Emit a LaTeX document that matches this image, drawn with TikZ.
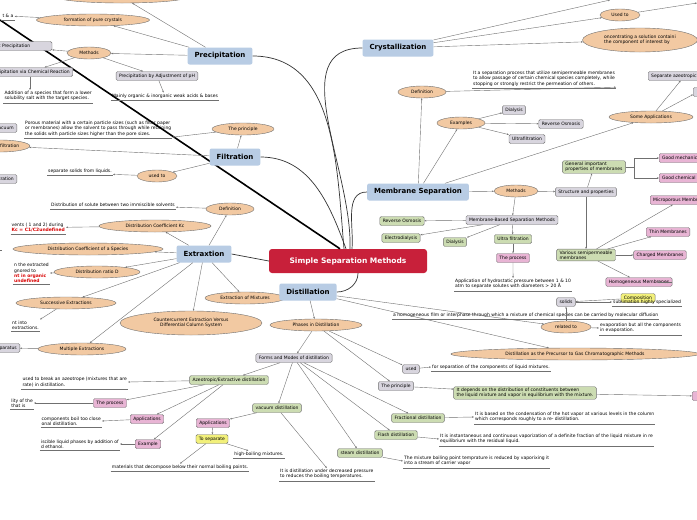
\documentclass[tikz,border=0pt]{standalone}
\usepackage{fontspec}
\setmainfont{DejaVu Sans}
\usetikzlibrary{shapes.geometric,arrows.meta}
\definecolor{mainred}{HTML}{C8203A}
\definecolor{topicblue}{HTML}{B8CCE4}
\definecolor{peach}{HTML}{F2C9A2}
\definecolor{greybox}{HTML}{D8D5DE}
\definecolor{greenbox}{HTML}{CCDCB2}
\definecolor{pinkbox}{HTML}{E8B4D4}
\definecolor{yellowbox}{HTML}{F2F07A}
\definecolor{linegrey}{HTML}{707070}
\tikzset{
 base/.style={font=\fontsize{4.5}{5.2}\selectfont, align=center, inner sep=1.5pt},
 mainnode/.style={base, fill=mainred, text=white, font=\fontsize{7.5}{9}\selectfont\bfseries, rounded corners=3pt, minimum width=158pt, minimum height=24pt},
 topic/.style={base, fill=topicblue, font=\fontsize{7}{8}\selectfont\bfseries, rounded corners=2pt, minimum height=17pt, inner xsep=7pt},
 oval/.style={base, ellipse, fill=peach, draw=linegrey, line width=0.4pt, inner sep=0.5pt, minimum height=12pt},
 gbox/.style={base, fill=greybox, draw=linegrey, rounded corners=1.5pt, minimum height=9pt, inner xsep=3pt},
 grbox/.style={base, fill=greenbox, draw=linegrey, rounded corners=1.5pt, minimum height=9pt, inner xsep=3pt},
 pbox/.style={base, fill=pinkbox, draw=linegrey, rounded corners=1.5pt, minimum height=9pt, inner xsep=3pt},
 ybox/.style={base, fill=yellowbox, draw=linegrey, rounded corners=1.5pt, minimum height=9pt, inner xsep=3pt},
 note/.style={base, align=left, inner sep=1pt, append after command={([yshift=-1pt]\tikzlastnode.south west) edge[draw=linegrey, line width=0.5pt] ([yshift=-1pt]\tikzlastnode.south east)}},
 con/.style={draw=linegrey, line width=0.4pt, -{Stealth[length=2pt,width=1.6pt]}},
 trunk/.style={draw=black!80, line width=0.7pt},
 redt/.style={text=red!85!black, font=\fontsize{4.5}{5.2}\selectfont\bfseries},
}
\begin{document}
\begin{tikzpicture}[x=1pt,y=-1pt]
\useasboundingbox (0,0) rectangle (697,520);
\fill[white] (0,0) rectangle (697,520);
% thick line
\coordinate (tl) at (0,20);
% ---------- main & topics
\node[mainnode] (main) at (348,261) {Simple Separation Methods};
\draw[black, line width=1.6pt] (tl) -- ([xshift=-8pt]main.north);
\node[topic] (prec) at (220,56) {Precipitation};
\node[topic] (filt) at (235,157) {Filtration};
\node[topic] (extr) at (204,254) {Extraxtion};
\node[topic] (cryst) at (398,48) {Crystallization};
\node[topic] (memb) at (418,192) {Membrane Separation};
% ---------- precipitation
\node[oval, minimum width=130pt] (pfp) at (122,-3) {formation of precipitate (???)};
\node[oval, minimum width=113pt] (pfc) at (93,20) {formation of pure crystals};
\node[note] (ptxt) at (8,16) {t \& a};
\node[oval, minimum width=44pt] (pmeth) at (89,53) {Methods};
\node[gbox, minimum width=90pt] (psol) at (7,46) {Solvent Precipitation};
\node[gbox] (pchem) at (30,72) {Precipitation via Chemical Reaction};
\node[gbox] (pph) at (157,76) {Precipitation by Adjustment of pH};
\node[note] (pphtxt) at (165,96) {Mainly organic \& inorganic weak acids \& bases};
\node[note, anchor=north east] (pchtxt) at (93,90) {Addition of a species that form a lower\\solubility salt with the target species.};
\draw[con] (prec) -- (pfp);
\draw[con] (prec) -- (pfc);
\draw[con] (pfc) -- (ptxt);
\draw[con] (prec) -- (pmeth);
\draw[con] (pmeth) -- (psol);
\draw[con] (pmeth) -- (pchem);
\draw[con] (pmeth) -- (pph);
\draw[con] (pph) -- (pphtxt);
\draw[con] (pchem) -- (pchtxt.north east -| pchem.south);
% ---------- filtration
\node[oval, minimum width=62pt] (fprin) at (243,129) {The principle};
\node[note, anchor=north west] (fptxt) at (24,120) {Porous material with a certain particle sizes (such as filter paper\\or membranes) allow the solvent to pass through while retaining\\the solids with particle sizes higher than the pore sizes.};
\node[gbox, anchor=east] (fvac) at (17,128) {Vacuum};
\node[oval, anchor=east, minimum width=60pt] (ftypes) at (30,146) {Types of filtration};
\node[gbox, anchor=east] (fgrav) at (17,179) {Gravity filtration};
\node[oval, minimum width=40pt] (fused) at (157,176) {used to};
\node[note] (futxt) at (80,171) {separate solids from liquids.};
\draw[con] (filt) -- (fprin);
\draw[con] (fprin) -- (fptxt.south east);
\draw[con] (filt) -- (ftypes);
\draw[con] (filt) -- (fused);
\draw[con] (fused) -- (futxt.south east);
% ---------- extraction
\node[oval, minimum width=48pt] (edef) at (230,209) {Definition};
\node[note] (edtxt) at (113,205) {Distribution of solute between two immiscible solvents};
\node[oval, minimum width=112pt] (ekc) at (155,226) {Distribution Coefficient Kc};
\node[note, anchor=south east] (ekctxt) at (66,233) {vents ( 1 and 2) during\\\textcolor{red!85!black}{\bfseries Kc = C1/C2undefined}};
\node[oval, minimum width=150pt] (espec) at (88,249) {Distribution Coefficient of a Species};
\node[note, anchor=east] (esptxt) at (2,248) {};
\node[oval, minimum width=86pt] (eratio) at (97,272) {Distribution ratio D};
\node[note, anchor=east] (ertxt) at (50,273) {n the extracted\\gnored to\\\textcolor{red!85!black}{\bfseries nt in organic}\\\textcolor{red!85!black}{\bfseries undefined}};
\node[oval, minimum width=100pt] (esucc) at (66,303) {Successive Extractions};
\node[note, anchor=east] (esutxt) at (40,325) {nt into\\extractions.};
\node[oval, minimum width=80pt] (emix) at (245,298) {Extraction of Mixtures};
\node[oval, minimum width=142pt, minimum height=24pt] (ecc) at (191,323) {Countercurrent Extraction Versus\\Differential Column System};
\node[oval, minimum width=88pt] (emult) at (82,349) {Multiple Extractions};
\node[gbox, anchor=east] (eapp) at (20,348) {Apparatus};
\draw[con] (extr) -- (edef);
\draw[con] (edef) -- (edtxt);
\draw[con] (extr) -- (ekc);
\draw[con] (ekc) -- (ekctxt.east);
\draw[con] (extr) -- (espec);
\draw[con] (extr) -- (eratio);
\draw[con] (eratio) -- (ertxt.east);
\draw[con] (extr) -- (esucc);
\draw[con] (esucc) -- (esutxt.north east);
\draw[con] (extr) -- (emix);
\draw[con] (extr) -- (ecc);
\draw[con] (extr) -- (emult);
\draw[con] (emult) -- (eapp);
% ---------- distillation
\node[topic] (dist) at (308,292) {Distillation};
\node[oval, minimum width=92pt] (dphase) at (316,325) {Phases in Distillation};
\node[gbox] (dforms) at (294,358) {Forms and Modes of distillation};
\node[grbox] (dazeo) at (229,380) {Azeotropic/Extractive distillation};
\node[note, anchor=east] (daztxt) at (128,382) {used to break an azeotrope (mixtures that are\\rate) in distillation.};
\node[pbox] (dproc) at (110,403) {The process};
\node[note, anchor=east] (dprtxt) at (34,403) {lity of the\\that is};
\node[pbox] (dapp1) at (147,419) {Applications};
\node[note, anchor=east] (dap1txt) at (102,421) {components boil too close\\onal distillation.};
\node[pbox] (dex) at (148,444) {Example};
\node[note, anchor=east] (dextxt) at (120,444) {iscible liquid phases by addition of\\d ethanol.};
\node[grbox] (dvac) at (277,408) {vacuum distillation};
\node[pbox] (dapp2) at (213,423) {Applications};
\node[ybox] (dsep) at (212,439) {To separate};
\node[note] (dhb) at (259,454) {high-boiling mixtures.};
\node[note] (ddec) at (180,467) {materials that decompose below their normal boiling points.};
\node[note, anchor=west] (dvtxt) at (279,474) {It is distillation under decreased pressure\\to reduces the boiling temperatures.};
\node[grbox] (dsteam) at (360,453) {steam distillation};
\node[note, anchor=west] (dsttxt) at (403,461) {The mixture boiling point temprature is reduced by vaporixing it\\into a stream of carrier vapor};
\node[grbox] (dflash) at (396,435) {Flash distillation};
\node[note, anchor=west] (dfltxt) at (439,439) {It is instantaneous and continuous vaporization of a definite fraction of the liquid mixture in re\\equilibrium with the residual liquid.};
\node[grbox] (dfrac) at (418,418) {Fractional distillation};
\node[note, anchor=west] (dfrtxt) at (474,417) {It is based on the condensation of the hot vapor at various levels in the column\\which corresponds roughly to a re- distillation.};
\node[gbox] (dprin) at (396,386) {The principle};
\node[grbox, align=left] (dprtx) at (525,393) {It depends on the distribution of constituents between\\the liquid mixture and vapor in equilibrium with the mixture.};
\node[pbox, anchor=west] (dpink) at (692,396) {\phantom{Xx}};
\node[gbox] (dused) at (411,369) {used};
\node[note, anchor=west] (dutxt) at (431,367) {for separation of the components of liquid mixtures.};
\node[oval, minimum width=248pt] (dgc) at (575,354) {Distillation as the Precursor to Gas Chromatographic Methods};
\node[oval, minimum width=50pt] (drel) at (566,327) {related to};
\node[note, anchor=west] (dhom) at (392,315) {a homogeneous film or interphase through which a mixture of chemical species can be carried by molecular diffusion};
\node[gbox] (dsol) at (566,302) {solids};
\node[ybox] (dcomp) at (638,298) {Composition};
\node[note, anchor=west] (dsub) at (612,302) {sublimation highly specialized};
\node[note, anchor=west] (devap) at (599,328) {evaporation but all the components\\in evaporation.};
\draw[con] (dist) -- (dphase);
\draw[con] (dphase) -- (dforms);
\draw[con] (dforms) -- (dazeo);
\draw[con] (dazeo) -- (daztxt.east);
\draw[con] (dazeo) -- (dproc);
\draw[con] (dproc) -- (dprtxt.east);
\draw[con] (dazeo) -- (dapp1);
\draw[con] (dapp1) -- (dap1txt.east);
\draw[con] (dazeo) -- (dex);
\draw[con] (dex) -- (dextxt.east);
\draw[con] (dforms) -- (dvac);
\draw[con] (dvac) -- (dapp2);
\draw[con] (dapp2) -- (dsep);
\draw[con] (dsep) -- (dhb);
\draw[con] (dsep) -- (ddec.north);
\draw[con] (dvac) -- (dvtxt.north);
\draw[con] (dforms) -- (dsteam);
\draw[con] (dsteam) -- (dsttxt.west);
\draw[con] (dforms) -- (dflash);
\draw[con] (dflash) -- (dfltxt.west);
\draw[con] (dforms) -- (dfrac);
\draw[con] (dfrac) -- (dfrtxt.west);
\draw[con] (dphase) -- (dprin);
\draw[con] (dprin) -- (dprtx);
\draw[con] (dprtx) -- (dpink);
\draw[con] (dphase) -- (dused);
\draw[con] (dused) -- (dutxt.west);
\draw[con] (dist) -- (dgc);
\draw[con] (dist) -- (drel);
\draw[con] (drel) -- (devap.west);
\draw[con] (drel) -- (dsol);
\draw[con] (dsol) -- (dsub.west);
\draw[con] (dcomp) -- (dsol);
% ---------- crystallization
\node[oval, minimum width=40pt] (cused) at (620,15) {Used to};
\node[oval, minimum width=115pt, minimum height=24pt, align=left] (cconc) at (640,40) {oncentrating a solution containi\\the component of interest by};
\coordinate (ctop1) at (610,0);
\coordinate (ctop2) at (697,3);
\draw[con] (cryst) -- (ctop1);
\draw[con] (cryst) -- (cused);
\draw[con] (cused) -- (ctop2);
\draw[con] (cryst) -- (cconc);
% ---------- membrane
\node[oval, minimum width=48pt] (mdef) at (422,92) {Definition};
\node[note, anchor=north west] (mdtxt) at (472,70) {It a separation process that utilize semipermeable membranes\\to allow passage of certain chemical species completely, while\\stopping or strongly restrict the permeation of others.};
\node[gbox, anchor=west] (msep) at (648,76) {Separate azeotropic mixtures};
\node[gbox, anchor=west] (mapp2) at (693,92) {\phantom{X}};
\node[oval, minimum width=48pt] (mex) at (461,123) {Examples};
\node[gbox] (mdia) at (514,110) {Dialysis};
\node[gbox] (mro) at (561,124) {Reverse Osmosis};
\node[gbox] (muf) at (527,139) {Ultrafiltration};
\node[oval, minimum width=84pt] (mapp) at (651,117) {Some Applications};
\node[oval, minimum width=44pt] (mmeth) at (516,191) {Methods};
\node[gbox] (mstr) at (586,192) {Structure and properties};
\node[grbox, align=left] (mgen) at (594,167) {General important\\properties of membranes};
\node[pbox, anchor=west] (mgm) at (659,158) {Good mechanical};
\node[pbox, anchor=west] (mgc) at (659,178) {Good chemical};
\node[pbox, anchor=west] (mmic) at (650,200) {Microporous Membranes};
\node[gbox] (mbased) at (512,220) {Membrane-Based Separation Methods};
\node[grbox] (mro2) at (402,221) {Reverse Osmosis};
\node[grbox] (melec) at (401,238) {Electrodialysis};
\node[grbox] (mdia2) at (455,242) {Dialysis};
\node[grbox] (multra) at (513,239) {Ultra filtration};
\node[pbox] (mproc) at (513,258) {The process};
\node[grbox, align=left] (mvar) at (586,255) {Various semipermeable\\membranes};
\node[pbox] (mthin) at (668,232) {Thin Membranes};
\node[pbox] (mchar) at (660,255) {Charged Membranes};
\node[pbox] (mhom) at (639,282) {Homogeneous Membranes};
\node[note, anchor=west] (mptxt) at (454,284) {Application of hydrostatic pressure between 1 \& 10\\atm to separate solutes with diameters > 20 Å};
\draw[con] (memb) -- (mdef);
\draw[con] (mdef) -- (mdtxt.south east);
\draw[con] (memb) -- (mex);
\draw[con] (mex) -- (mdia);
\draw[con] (mex) -- (mro);
\draw[con] (mex) -- (muf);
\draw[con] (memb) -- (mapp);
\draw[con] (mapp) -- (msep);
\draw[con] (mapp) -- (mapp2);
\draw[con] (memb) -- (mmeth);
\draw[con] (mmeth) -- (mstr);
\draw[con] (mstr) -- (mgen);
\draw[con] (mgen.east) -- ++(8,0) |- (mgm.west);
\draw[con] (mgen.east) -- ++(8,0) |- (mgc.west);
\draw[con] (mmeth) -- (mbased);
\draw[con] (mbased) -- (mro2);
\draw[con] (mbased) -- (melec);
\draw[con] (mbased) -- (mdia2);
\draw[con] (mbased) -- (multra);
\draw[con] (multra) -- (mproc);
\draw[con] (mproc) -- (mptxt.north);
\draw[con] (mstr) -- (mvar);
\draw[con] (mvar) -- (mmic);
\draw[con] (mvar) -- (mthin);
\draw[con] (mvar) -- (mchar);
\draw[con] (mvar) -- (mhom);
\draw[con] (mhom) -- ++(18,0);
% ---------- trunks
\draw[trunk] ([xshift=-4pt]main.north) to[out=95,in=0] (prec.east);
\draw[trunk] ([xshift=-2pt]main.north) to[out=110,in=0] (filt.east);
\draw[trunk] (main.west) -- (extr.east);
\draw[trunk] ([xshift=2pt]main.north) to[out=88,in=180] (cryst.west);
\draw[trunk] ([xshift=4pt]main.north) to[out=85,in=180] (memb.west);
\draw[trunk] ([xshift=10pt]main.south) to[out=-90,in=0] (dist.east);
\end{tikzpicture}
\end{document}
